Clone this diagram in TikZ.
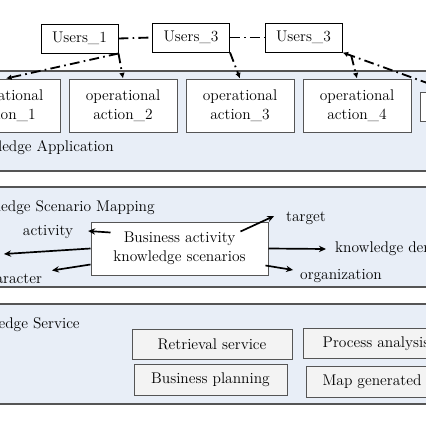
\documentclass[tikz,border=0pt]{standalone}
\usepackage{tikz}
\usetikzlibrary{arrows.meta, positioning, calc}
\definecolor{panelblue}{RGB}{232, 238, 247}
\definecolor{edgegray}{RGB}{85, 85, 85}
\definecolor{boxgray}{RGB}{243, 243, 243}
\tikzset{
  panel/.style      = {fill=panelblue, draw=edgegray, line width=0.8pt},
  opbox/.style      = {rectangle, draw=edgegray, fill=white, line width=0.7pt, minimum width=27mm, minimum height=13.25mm, inner sep=0pt, align=center},
  userbox/.style    = {rectangle, draw=black, fill=white, line width=0.7pt, minimum width=19.25mm, minimum height=7.25mm, inner sep=0pt},
  srvbox/.style     = {rectangle, draw=edgegray, fill=boxgray, line width=0.7pt, minimum height=7.5mm, inner sep=0pt},
  layertitle/.style = {anchor=east, inner sep=0pt},
  lbl/.style        = {inner sep=2pt},
  flow/.style       = {-{Stealth[length=5pt, width=4.5pt]}, line width=1.2pt},
  usrlink/.style    = {line width=1.3pt, dash pattern=on 7pt off 3pt on 1.2pt off 3pt},
  usrarrow/.style   = {usrlink, -{Latex[length=4pt, width=4pt]}},
}

\begin{document}
\begin{tikzpicture}[x=0.25mm, y=-0.25mm, font=\fontsize{11}{13.5}\selectfont]
  % picture frame
  \useasboundingbox (0,0) rectangle (426,426);
  \clip (0,0) rectangle (426,426);

  % three layers
  \draw[panel] (-10,71) rectangle (436,171);
  \draw[panel] (-10,187) rectangle (436,287);
  \draw[panel] (-10,304) rectangle (436,404);

  % Knowledge Application
  \node[opbox] (op1) at (6,105.5) {operational\\action\_1};
  \node[opbox] (op2) at (123,105.5) {operational\\action\_2};
  \node[opbox] (op3) at (240,105.5) {operational\\action\_3};
  \node[opbox] (op4) at (357,105.5) {operational\\action\_4};
  \node[opbox, minimum width=15mm, minimum height=7.25mm] (op5) at (450,106.5) {};
  \node[layertitle] (apptitle) at (114,148) {Knowledge Application};

  % users on top
  \node[userbox] (u1) at (79.5,38.5) {Users\_1};
  \node[userbox] (u2) at (191,37.5) {Users\_3};
  \node[userbox] (u3) at (303.5,37.5) {Users\_3};
  \coordinate (rightend) at (430,84);
  \coordinate (branch) at ($(u3.south east)!0.1!(rightend)$);

  \draw[usrlink] (u1.east) -- (u2.west);
  \draw[usrlink] (u2.east) -- (u3.west);
  \draw[usrarrow] (u1.south east) -- (op1.north);
  \draw[usrarrow] (u1.south east) -- (op2.north);
  \draw[usrarrow] (u2.south east) -- (op3.north);
  \draw[usrarrow] (rightend) -- (u3.south east);
  \draw[usrarrow] (branch) -- (op4.north);

  % Knowledge Scenario Mapping
  \node[layertitle] (maptitle) at (155,208) {Knowledge Scenario Mapping};
  \node[opbox, minimum width=44.25mm] (biz) at (179.5,248.5) {Business activity\\knowledge scenarios};
  \node[lbl] (activity) at (48,232) {activity};
  \node[lbl] (target) at (306,218) {target};
  \node[lbl, anchor=west] (knowdem) at (332,249) {knowledge demand};
  \node[lbl, anchor=east] (character) at (45,278) {character};
  \node[lbl] (organization) at (341,276) {organization};
  \coordinate (leftend) at (4,254);

  \draw[flow] ($(biz.north west)+(20,11)$) -- ($(activity.east)+(12,-1)$);
  \draw[flow] ($(biz.north east)+(-28,10)$) -- ($(target.west)+(-9,-2)$);
  \draw[flow] (biz.east) -- ($(knowdem.west)+(-6,0)$);
  \draw[flow] (biz.west) -- (leftend);
  \draw[flow] ($(biz.south west)+(0,-11)$) -- ($(character.north east)+(7,1)$);
  \draw[flow] ($(biz.south east)+(-3,-10)$) -- ($(organization.west)+(-4,-6)$);

  % Knowledge Service
  \node[layertitle] (srvtitle) at (80,325) {Knowledge Service};
  \node[srvbox, minimum width=40mm] (retrieval) at (212,344) {Retrieval service};
  \node[srvbox, minimum width=36.5mm] (process) at (376,343.5) {Process analysis};
  \node[srvbox, minimum width=38.25mm, minimum height=7.75mm] (planning) at (210.5,379.5) {Business planning};
  \node[srvbox, minimum width=33mm, minimum height=7.75mm] (mapgen) at (372,381.5) {Map generated};

\end{tikzpicture}
\end{document}
